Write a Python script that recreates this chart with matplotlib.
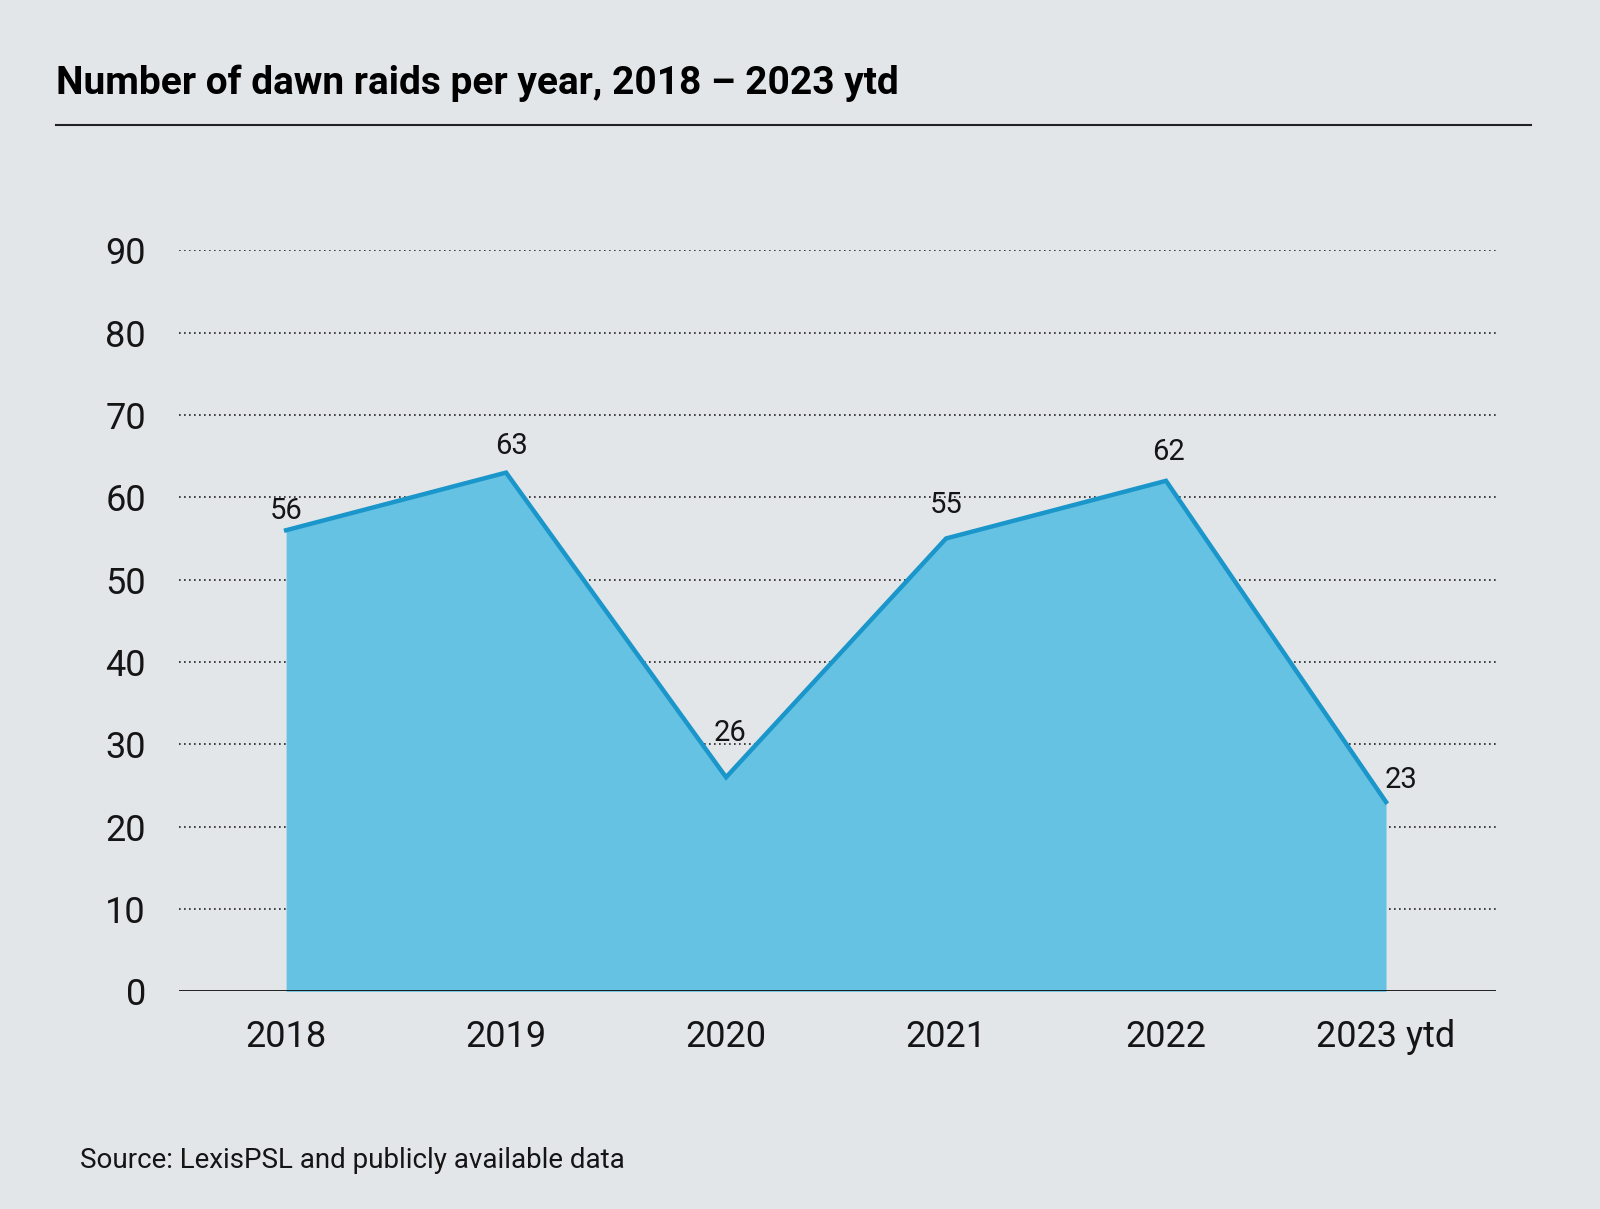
import matplotlib.pyplot as plt

# Data
years = ['2018', '2019', '2020', '2021', '2022', '2023 ytd']
raids = [56, 63, 26, 55, 62, 23]
y_ticks = [0, 10, 20, 30, 40, 50, 60, 70, 80, 90]

bg = '#e2e6e9'
fill_col = '#66c2e3'
line_col = '#1b96ca'
txt = '#151515'

plt.rcParams['font.family'] = ['Roboto', 'Liberation Sans', 'DejaVu Sans']

fig = plt.figure(figsize=(16, 12.09), dpi=100, facecolor=bg)
ax = fig.add_axes([0.112, 0.180, 0.823, 0.613])
ax.set_facecolor(bg)

x = list(range(len(years)))

# dotted grid under the area
for v in y_ticks[1:]:
    ax.axhline(v, color='#222222', lw=1.2, ls=(0, (1, 2)), zorder=1)
ax.axhline(0, color='#111111', lw=1.3, zorder=4)

ax.fill_between(x, raids, 0, color=fill_col, lw=0, zorder=2)
ax.plot(x, raids, color=line_col, lw=3.2, solid_joinstyle='miter', zorder=3)

# value labels (offsets in points, label centre from the point)
offsets = [(0, 14), (4, 19), (3, 32), (0, 24), (2, 21), (11, 16)]
for xi, v, off in zip(x, raids, offsets):
    ax.annotate(str(v), (xi, v), xytext=off, textcoords='offset points',
                ha='center', va='center', fontsize=21, color=txt)

ax.set_xlim(-0.486, 5.5)
ax.set_ylim(0, 90)
ax.set_yticks(y_ticks)
ax.set_yticklabels([str(t) for t in y_ticks], fontsize=26)
ax.set_xticks(x)
ax.set_xticklabels(years, fontsize=26)
ax.tick_params(axis='y', length=0, pad=24, colors=txt)
ax.tick_params(axis='x', length=0, pad=20, colors=txt)
for s in ax.spines.values():
    s.set_visible(False)

# title, rule and source
fig.text(0.035, 0.931, 'Number of dawn raids per year, 2018 \u2013 2023 ytd',
         fontsize=28, fontweight='bold', color='black', va='center')
fig.add_artist(plt.Line2D([0.035, 0.957], [0.897, 0.897], color='#222222', lw=1.5))
fig.text(0.05, 0.040, 'Source: LexisPSL and publicly available data',
         fontsize=20, color=txt, va='center')

fig.savefig('out.png', dpi=100, facecolor=bg)
